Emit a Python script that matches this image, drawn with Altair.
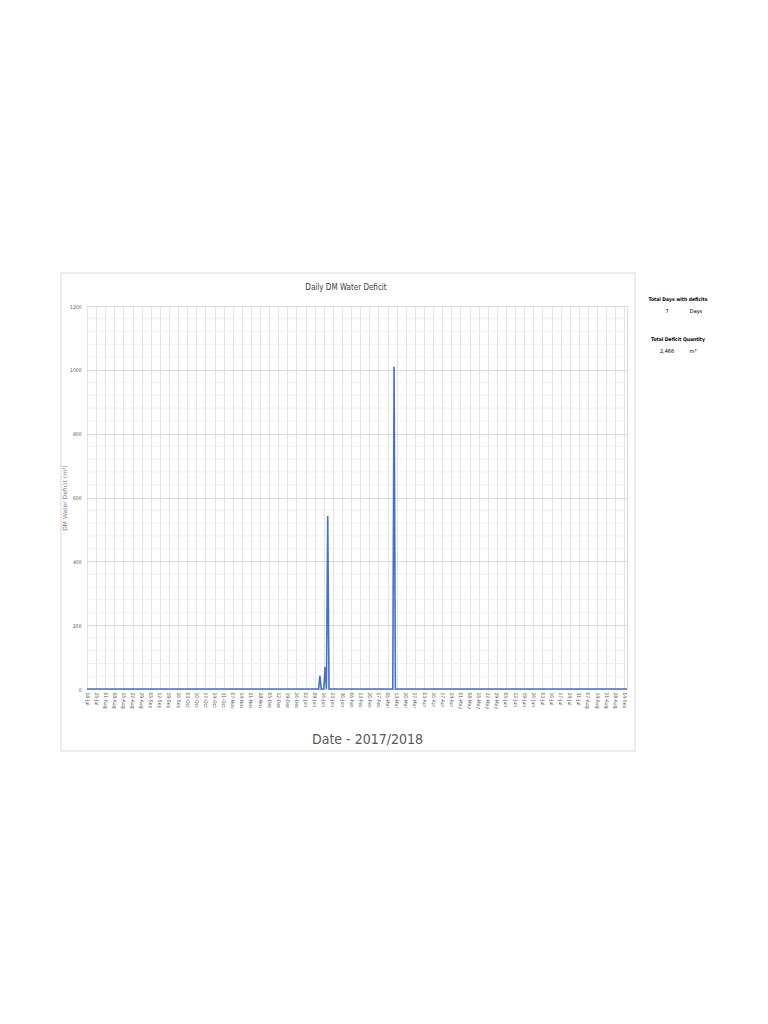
import altair as alt
import pandas as pd

# ---- data ----
start_date = "2017-07-18"
end_date = "2018-09-06"
deficit_dates = ["2018-01-13", "2018-01-17", "2018-01-19", "2018-03-11"]
deficit_values = [41, 69, 542, 1010]

y_ticks = [0, 200, 400, 600, 800, 1000, 1200]
y_minor = [v for v in range(40, 1200, 40) if v % 200 != 0]

total_days = 7
total_quantity = "2,466"

chart_title = "Daily DM Water Deficit"
x_title = "Date - 2017/2018"
y_title = "DM Water Deficit (m³)"

# ---- build tables ----
days = pd.date_range(start_date, end_date, freq="D")
vals = dict(zip(deficit_dates, deficit_values))
df = pd.DataFrame({
    "date": [d.strftime("%Y-%m-%d") for d in days],
    "deficit": [vals.get(d.strftime("%Y-%m-%d"), 0) for d in days],
})

week_ticks = pd.date_range(start_date, "2018-09-04", freq="7D")
x_values = [alt.DateTime(year=d.year, month=d.month, date=d.day, utc=True) for d in week_ticks]
s = pd.Timestamp(start_date)
e = pd.Timestamp(end_date)
x_domain = [alt.DateTime(year=s.year, month=s.month, date=s.day, utc=True),
            alt.DateTime(year=e.year, month=e.month, date=e.day, utc=True)]

FONT = "Liberation Sans Narrow, DejaVu Sans Condensed, Liberation Sans, sans-serif"

W, H = 540, 383

x_enc = alt.X(
    "date:T",
    scale=alt.Scale(type="utc", domain=x_domain),
    axis=alt.Axis(
        values=x_values, format="%d-%b", labelAngle=90, labelAlign="left",
        labelBaseline="middle", labelFontSize=5, labelColor="#595959",
        labelFont=FONT, labelPadding=3, ticks=False, domain=True,
        domainColor="#d9d9d9", gridColor="#e3e3e3", labelOverlap=False,
        title=x_title, titleFontSize=14, titleFontWeight="normal",
        titleColor="#595959", titleFont=FONT, titlePadding=24, titleX=280,
    ),
)
y_scale = alt.Scale(domain=[0, 1200], nice=False)
y_axis = alt.Axis(
    values=y_ticks, format="d", labelFontSize=5, labelColor="#595959", labelFont=FONT,
    ticks=False, domain=False, gridColor="#d9d9d9", labelPadding=6,
    title=y_title, titleFontSize=6, titleFontWeight="normal",
    titleColor="#7f7f7f", titleFont="DejaVu Sans", titlePadding=2,
)

base = alt.Chart(df)

frame = alt.Chart(alt.Data(values=[{}])).mark_rect(
    filled=False, stroke="#d9d9d9", strokeWidth=1
).encode(x=alt.value(-26), x2=alt.value(548), y=alt.value(-33), y2=alt.value(445))

minor = alt.Chart(alt.Data(values=[{"v": v} for v in y_minor])).mark_rule(
    color="#eeeeee", strokeWidth=0.8
).encode(y=alt.Y("v:Q", scale=y_scale, axis=y_axis))

line = base.mark_line(color="#4472C4", strokeWidth=1.6).encode(
    x=x_enc,
    y=alt.Y("deficit:Q", scale=y_scale, axis=y_axis),
)

one = alt.Data(values=[{}])
def label(txt, x, y, bold=False, align="center", size=6, color="#000000"):
    return alt.Chart(one).mark_text(
        fontSize=size, font=FONT, fontWeight="bold" if bold else "normal",
        color=color, align=align, baseline="middle"
    ).encode(x=alt.value(x), y=alt.value(y), text=alt.value(txt))

texts = [
    label(chart_title, 259, -18, size=8, color="#404040"),
    label("Total Days with deficits", 591, -7, bold=True, size=5),
    label(str(total_days), 580, 5, size=5.5),
    label("Days", 609, 5, size=5.5),
    label("Total Deficit Quantity", 591, 33, bold=True, size=5),
    label(total_quantity, 580, 45, size=5.5),
    label("m³", 606, 45, size=5.5),
]

chart = alt.layer(frame, minor, line, *texts).properties(
    width=W, height=H,
    padding={"left": 52, "top": 264, "right": 5, "bottom": 5},
).configure_view(strokeWidth=0).configure(background="white")

chart.save("out.html", embed_options={"renderer": "svg", "actions": False})
